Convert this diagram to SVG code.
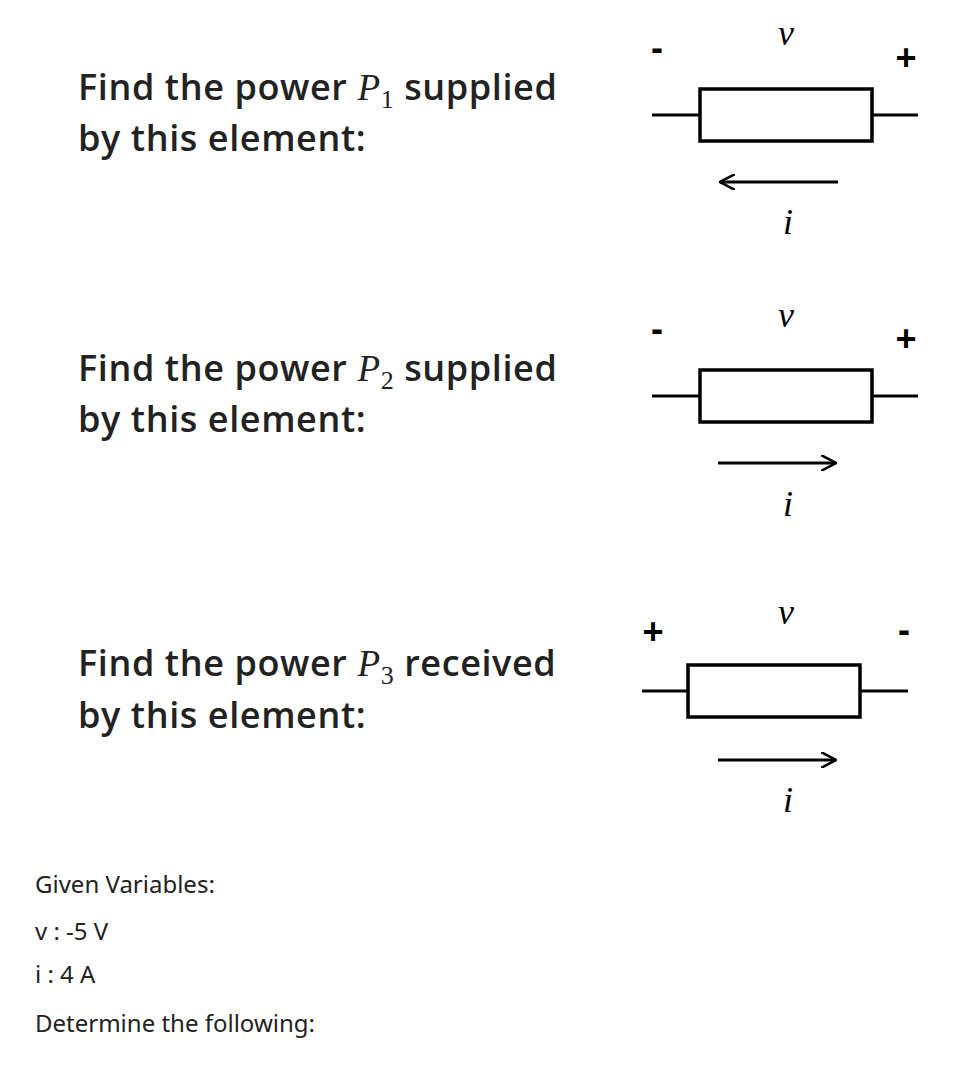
<svg xmlns="http://www.w3.org/2000/svg" width="980" height="1068" viewBox="0 0 980 1068">
<style>
.q{font-family:"Open Sans","Liberation Sans",sans-serif;font-size:36px;font-weight:600;fill:#222;letter-spacing:0.6px}
.m{font-family:"Liberation Serif",serif;font-style:italic;font-weight:normal;font-size:37px}
.s{font-family:"Liberation Serif",serif;font-weight:normal;font-size:26px}
.g{font-family:"Noto Sans","Liberation Sans",sans-serif;font-size:24px;fill:#222}
.w{stroke:#000;stroke-width:3;fill:none}
.r{stroke:#000;stroke-width:3.5;fill:#fff}
.sg{font-family:"Liberation Sans",sans-serif;font-size:36px;font-weight:bold;text-anchor:middle}
.v{font-family:"Liberation Serif",serif;font-style:italic;font-size:36px;text-anchor:middle}
</style>
<defs><marker id="a" viewBox="0 0 16 16" refX="15" refY="8" markerWidth="16" markerHeight="16" markerUnits="userSpaceOnUse" orient="auto"><path d="M0,0 L15,8 L0,16" fill="none" stroke="#000" stroke-width="2.5"/></marker></defs>
<g id="text1"><text class="q" x="78" y="100">Find the power <tspan class="m">P</tspan><tspan class="s" dy="8">1</tspan><tspan dy="-8"> supplied</tspan></text><text class="q" x="78" y="151">by this element:</text></g>
<g id="text2"><text class="q" x="78" y="381">Find the power <tspan class="m">P</tspan><tspan class="s" dy="8">2</tspan><tspan dy="-8"> supplied</tspan></text><text class="q" x="78" y="432">by this element:</text></g>
<g id="text3"><text class="q" x="78" y="676">Find the power <tspan class="m">P</tspan><tspan class="s" dy="8">3</tspan><tspan dy="-8"> received</tspan></text><text class="q" x="78" y="728">by this element:</text></g>
<g id="el1"><path class="w" d="M652,115H700M872,115H918"/><rect class="r" x="700" y="89" width="172" height="52"/><text class="sg" x="657" y="60">-</text><text class="sg" x="906" y="70">+</text><text class="v" x="786" y="45">v</text><text class="v" x="788" y="234">i</text></g>
<g id="el2"><path class="w" d="M652,396H700M872,396H918"/><rect class="r" x="700" y="370" width="172" height="52"/><text class="sg" x="657" y="341">-</text><text class="sg" x="906" y="351">+</text><text class="v" x="786" y="327">v</text><text class="v" x="788" y="516">i</text></g>
<g id="el3"><path class="w" d="M642,691H688M860,691H908"/><rect class="r" x="688" y="665" width="172" height="52"/><text class="sg" x="653" y="644">+</text><text class="sg" x="904" y="642">-</text><text class="v" x="786" y="624">v</text><text class="v" x="788" y="812">i</text></g>
<g id="connectors"><path class="w" d="M838,182H720" marker-end="url(#a)" stroke-width="2.5"/><path class="w" d="M718,463H836" marker-end="url(#a)" stroke-width="2.5"/><path class="w" d="M718,760H836" marker-end="url(#a)" stroke-width="2.5"/></g>
<g id="given"><text class="g" x="35" y="893">Given Variables:</text><text class="g" x="35" y="940">v : -5 V</text><text class="g" x="35" y="983">i : 4 A</text><text class="g" x="35" y="1032">Determine the following:</text></g>
</svg>
